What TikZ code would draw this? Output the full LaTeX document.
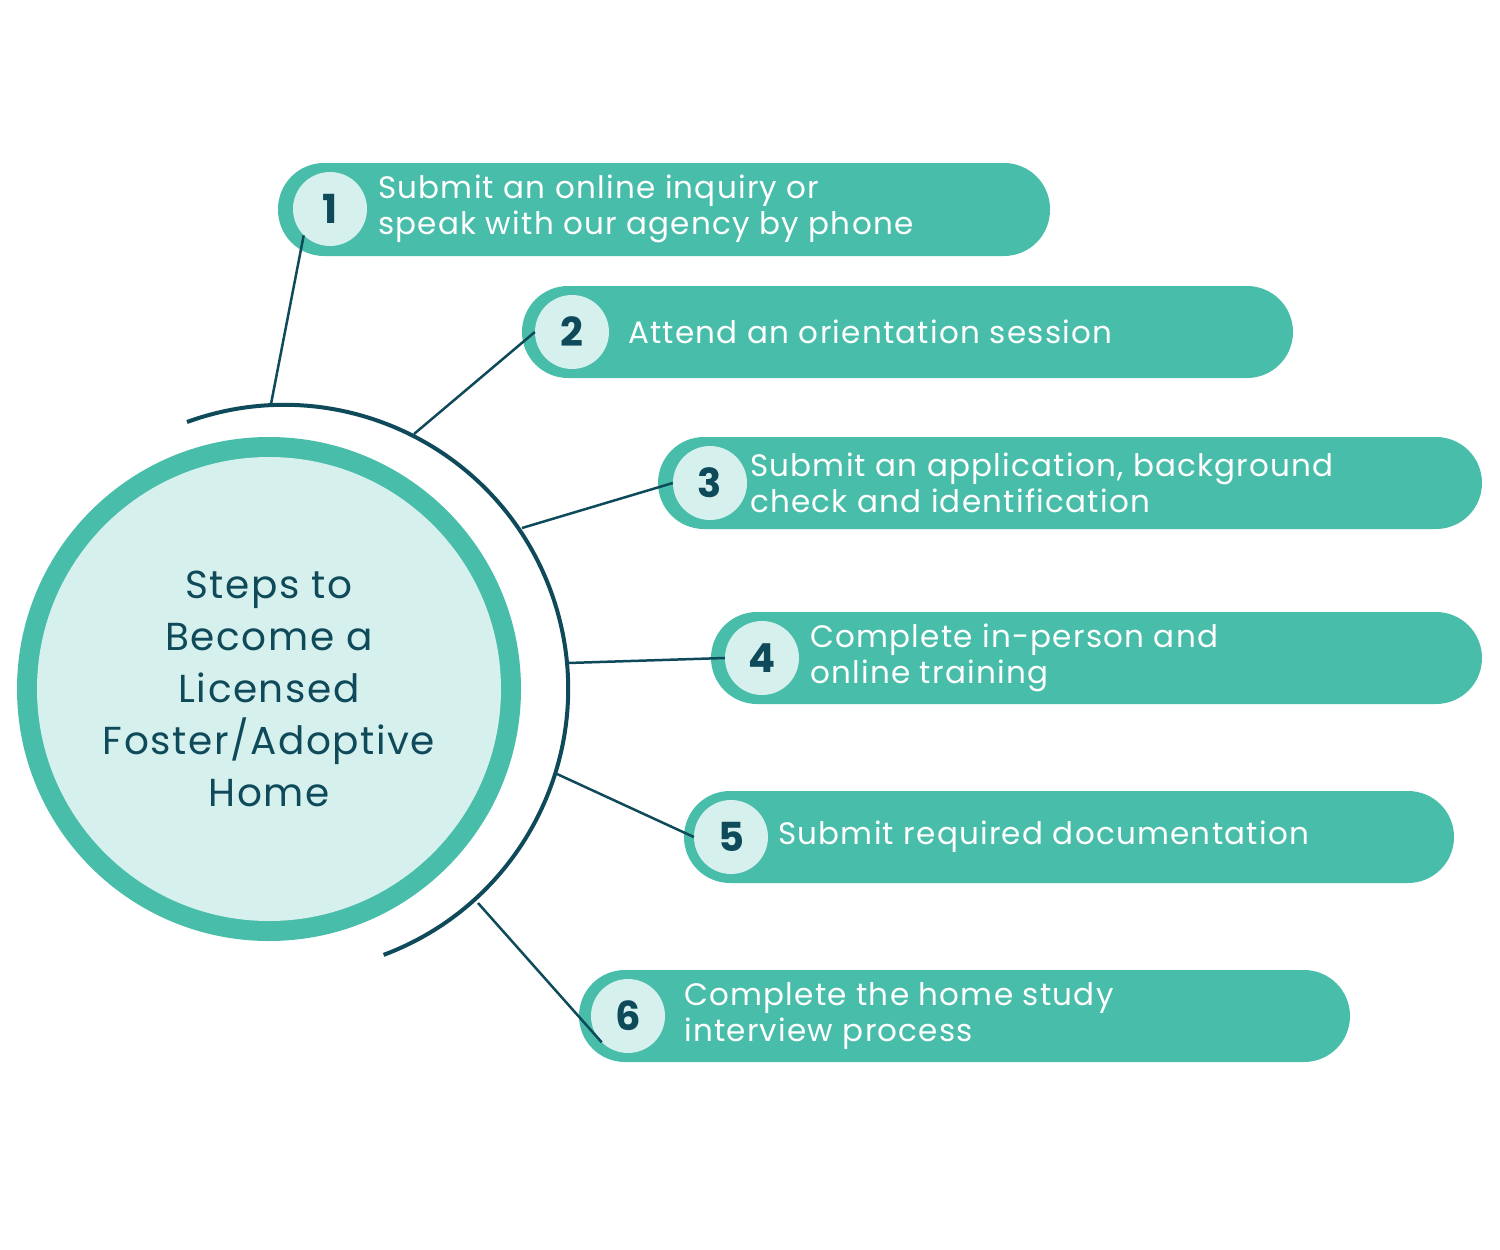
\documentclass[tikz,border=0pt]{standalone}
\usepackage{fontspec}
\setmainfont{Poppins}[LetterSpace=4]
\definecolor{teal}{HTML}{48BDA9}
\definecolor{light}{HTML}{D6F0EE}
\definecolor{dark}{HTML}{0E4A5A}
\begin{document}
\begin{tikzpicture}[x=1pt,y=-1pt,
  pill/.style={fill=teal,rounded corners=46pt},
  num/.style={circle,fill=light,minimum size=74pt,inner sep=0pt,text=dark,font=\fontsize{40}{40}\selectfont\bfseries},
  lab/.style={anchor=west,align=left,text=white,inner sep=0pt,font=\fontsize{31}{36}\selectfont},
  con/.style={draw=dark,line width=2.5pt}]
\useasboundingbox (0,0) rectangle (1500,1250);
\fill[teal] (269,689) circle (252);
\fill[light] (269,689) node[circle,minimum size=464pt,inner sep=0pt] (c) {} circle (232);
\node[text=dark,align=center,font=\fontsize{39}{52}\selectfont] at (269,689) {Steps to\\Become a\\Licensed\\Foster/Adoptive\\Home};
\draw[dark,line width=4pt] (187,422) arc[start angle=110,end angle=-69.5,x radius=284,y radius=-284];
\coordinate (a1) at (271,404); \coordinate (a2) at (414,434); \coordinate (a3) at (522,528);
\coordinate (a4) at (568,663); \coordinate (a5) at (557,774); \coordinate (a6) at (478,903);
\fill[pill] (278,163) rectangle (1050,256);
\fill[pill] (522,286) rectangle (1293,378);
\fill[pill] (658,437) rectangle (1482,529);
\fill[pill] (711,612) rectangle (1482,704);
\fill[pill] (684,791) rectangle (1454,883);
\fill[pill] (579,970) rectangle (1350,1062);
\node[num] (n1) at (330,209) {1};
\node[num] (n2) at (572,332) {2};
\node[num] (n3) at (710,483) {3};
\node[num] (n4) at (762,658) {4};
\node[num] (n5) at (731,837) {5};
\node[num] (n6) at (628,1016) {6};
\node[lab] at (378,209) {Submit an online inquiry or\\speak with our agency by phone};
\node[lab] at (628,332) {Attend an orientation session};
\node[lab] at (750,483) {Submit an application, background\\check and identification};
\node[lab] at (810,658) {Complete in-person and\\online training};
\node[lab] at (778,837) {Submit required documentation};
\node[lab] at (684,1016) {Complete the home study\\interview process};
\draw[con] (a1) -- (n1.south west);
\draw[con] (a2) -- (n2.west);
\draw[con] (a3) -- (n3.west);
\draw[con] (a4) -- (n4.west);
\draw[con] (a5) -- (n5.west);
\draw[con] (a6) -- (n6.south west);
\end{tikzpicture}
\end{document}
